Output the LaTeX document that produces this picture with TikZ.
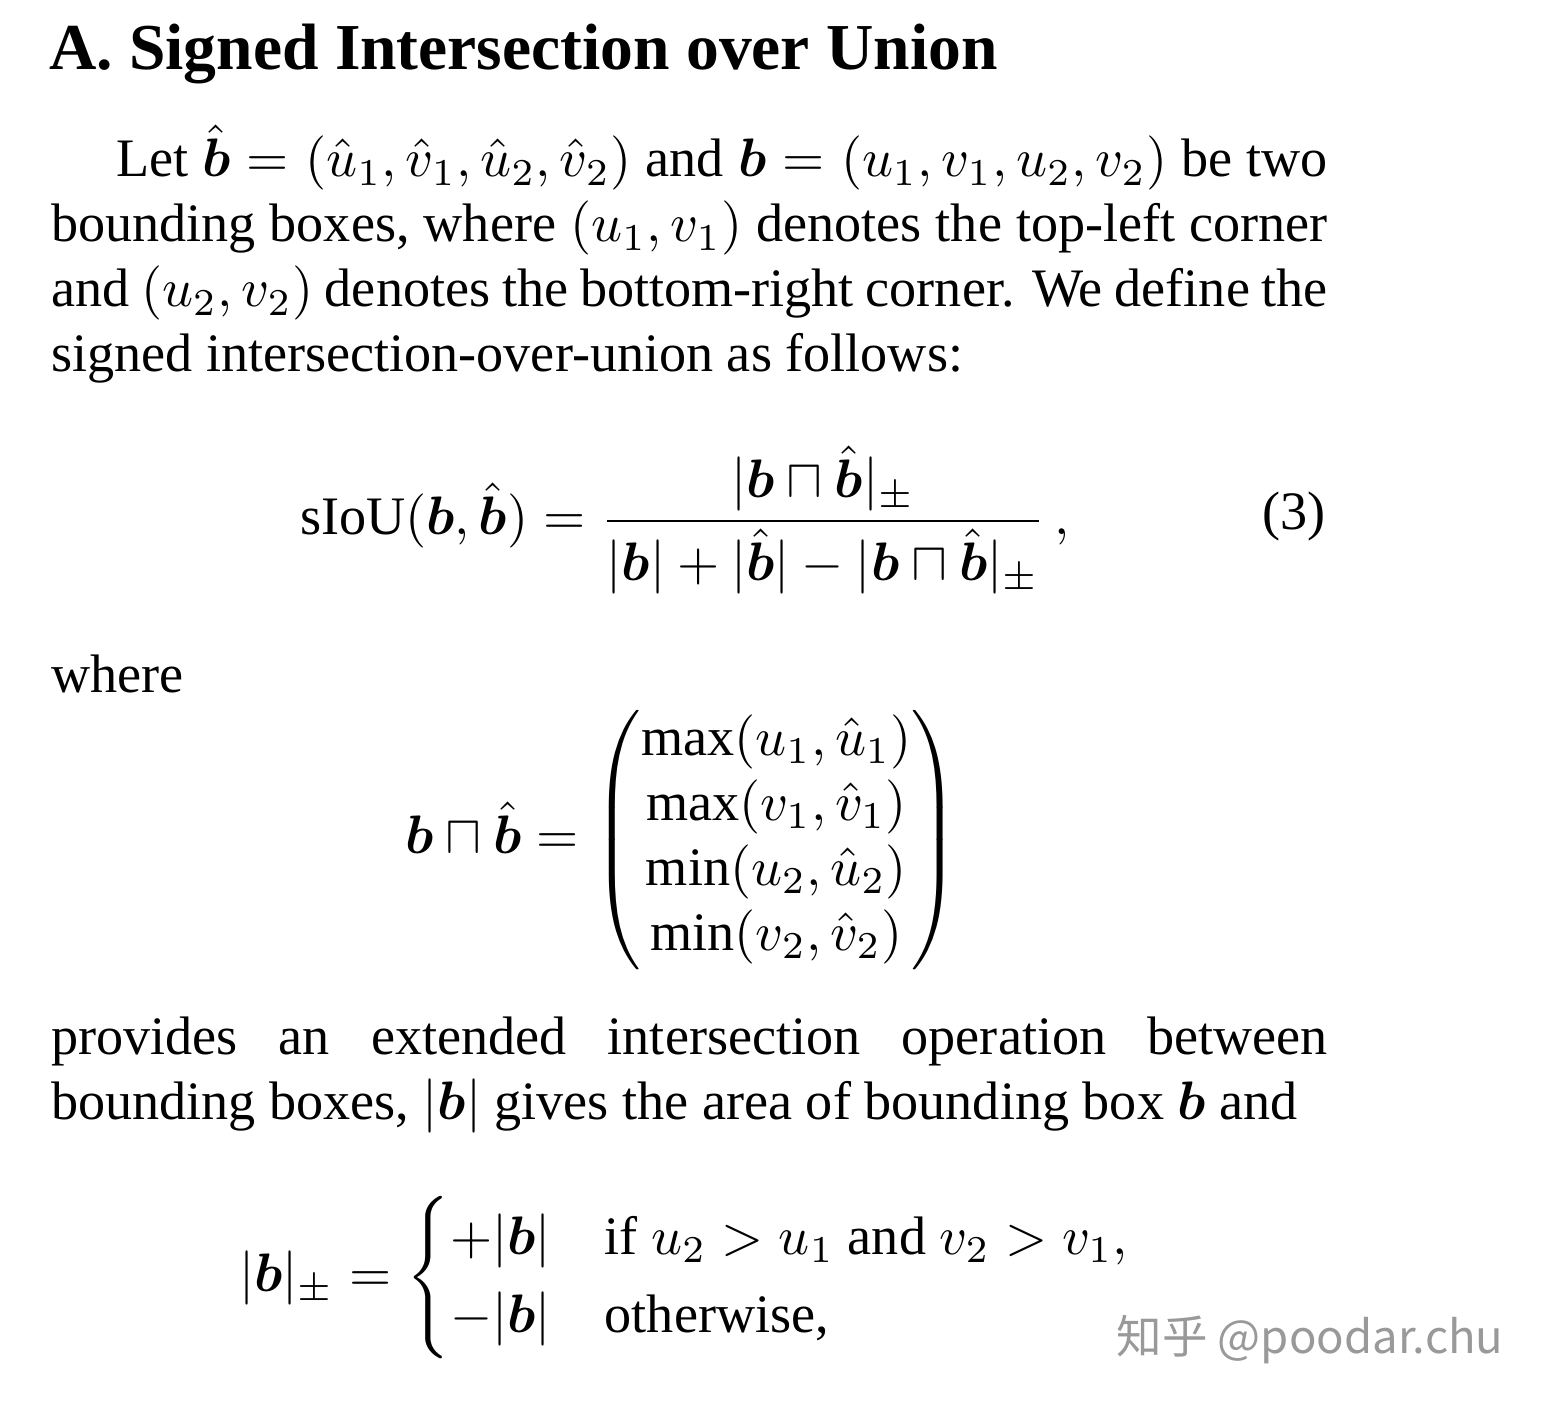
\documentclass[tikz,border=0pt]{standalone}
\usepackage{amsmath,amssymb,amsbsy}
\usepackage{fontspec}
\setmainfont{Liberation Serif}
\newfontfamily\cjk{Noto Sans CJK SC}
\newcommand{\bb}{\boldsymbol{b}}
\newcommand{\bh}{\hat{\boldsymbol{b}}}
\begin{document}
\begin{tikzpicture}[x=0.1846pt,y=-0.1846pt,
  para/.style={anchor=north west,inner sep=0pt,text width=235.7pt,align=justify,font=\fontsize{10}{12}\selectfont},
  eq/.style={inner sep=0pt,font=\fontsize{10}{12}\selectfont}]
\useasboundingbox (0,0) rectangle (1548,1410);
\node[anchor=base west,inner sep=0pt,font=\fontsize{12.1}{14}\selectfont\bfseries] (title) at (48,70) {A. Signed Intersection over Union};
\node[para] (p1) at (50,124) {\hspace*{12pt}Let $\bh=(\hat u_1,\hat v_1,\hat u_2,\hat v_2)$ and $\bb=(u_1,v_1,u_2,v_2)$ be two bounding boxes, where $(u_1,v_1)$ denotes the top-left corner and $(u_2,v_2)$ denotes the bottom-right corner. We define the signed intersection-over-union as follows:};
\node[eq,anchor=center] (e3) at (685,520) {$\displaystyle \mathrm{sIoU}(\bb,\bh)=\frac{|\bb\sqcap\bh|_\pm}{|\bb|+|\bh|-|\bb\sqcap\bh|_\pm}\,,$};
\node[eq,anchor=base east] (n3) at (1327,530) {(3)};
\node[para,anchor=base west] (where) at (50,693) {where};
\node[eq,anchor=center] (e4) at (682,840) {$\displaystyle \bb\sqcap\bh=\begin{pmatrix}\max(u_1,\hat u_1)\\ \max(v_1,\hat v_1)\\ \min(u_2,\hat u_2)\\ \min(v_2,\hat v_2)\end{pmatrix}$};
\node[para] (p2) at (50,1016) {provides an extended intersection operation between bounding boxes, $|\bb|$ gives the area of bounding box $\bb$ and};
\node[eq,anchor=center] (e5) at (687,1278) {$\displaystyle |\bb|_\pm=\begin{cases}+|\bb| & \text{if } u_2>u_1 \text{ and } v_2>v_1,\\ -|\bb| & \text{otherwise,}\end{cases}$};
\node[anchor=center,inner sep=0pt,text=black!40,font=\fontsize{8.4}{9}\cjk] (wm) at (1310,1340) {知乎 @poodar.chu};
\end{tikzpicture}
\end{document}
